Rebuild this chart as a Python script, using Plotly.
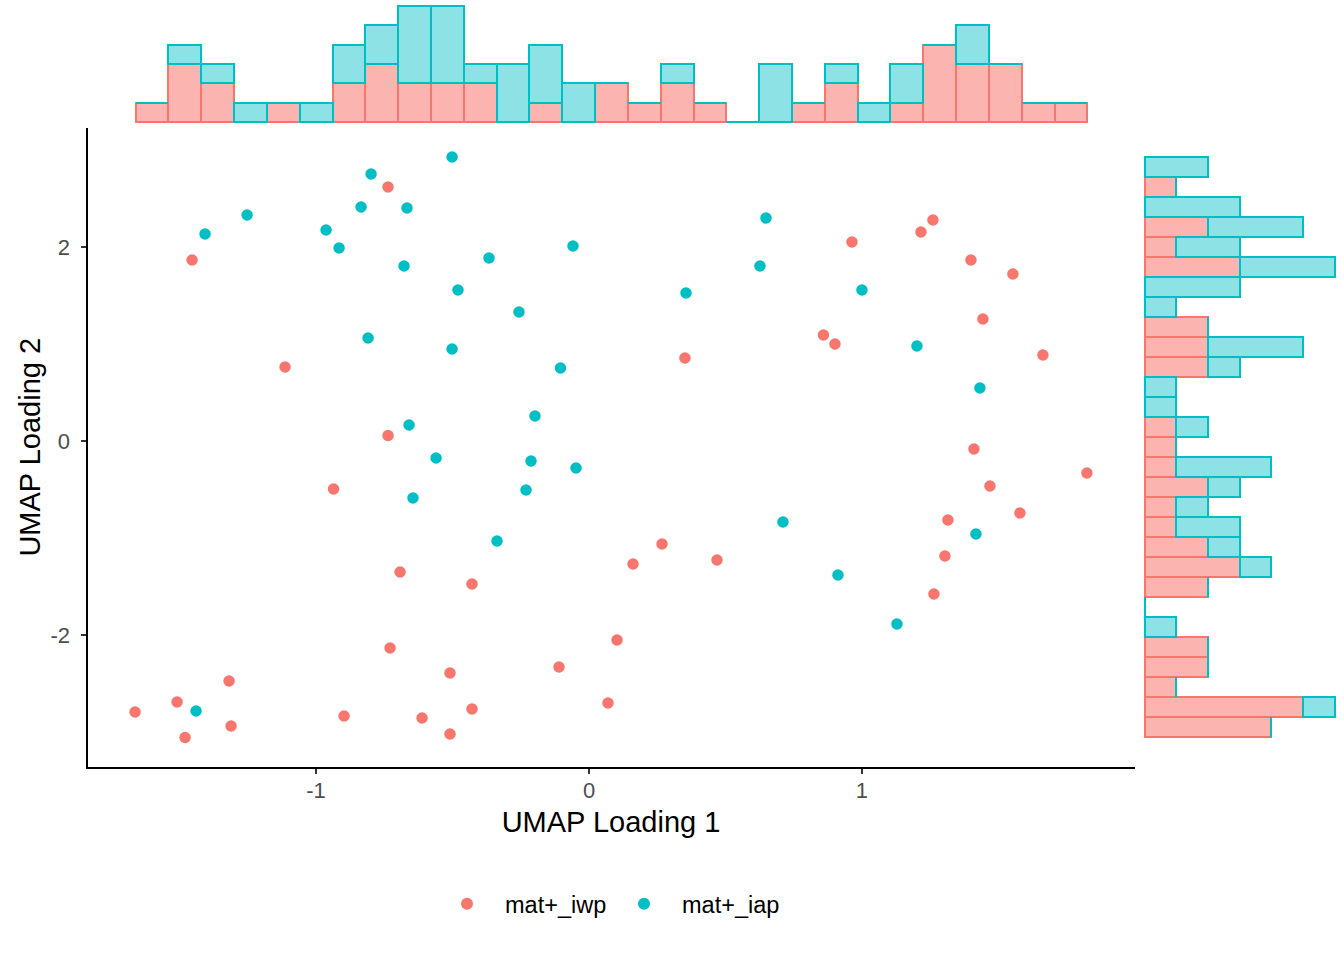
import numpy as np
import plotly.graph_objects as go

# ---------------- data ----------------
group_names = ["mat+_iwp", "mat+_iap"]
group_colors = ["#F8766D", "#00BFC4"]
group_fills = ["rgba(248,118,109,0.55)", "rgba(0,191,196,0.45)"]

iwp_x = [-0.7363, -1.4542, -1.1136, -0.7363, -0.9359, -0.6923, -0.4286, -0.7289,
         -0.5092, -1.3187, -1.5092, -1.6630, -1.3114, -1.4799, -0.8974, -0.6117,
         -0.4286, -0.5092, 0.2674, 0.1612, 0.4689, 0.1026, -0.1099, 0.0696,
         0.3516, 0.9634, 0.8590, 0.9011, 1.2601, 1.2161, 1.3993, 1.5531,
         1.4432, 1.6630, 1.4103, 1.8242, 1.4689, 1.5788, 1.3150, 1.3040, 1.2637]
iwp_y = [2.6186, 1.8660, 0.7629, 0.0567, -0.4948, -1.3505, -1.4742, -2.1340,
         -2.3918, -2.4742, -2.6907, -2.7938, -2.9381, -3.0567, -2.8351, -2.8557,
         -2.7629, -3.0206, -1.0619, -1.2680, -1.2268, -2.0515, -2.3299, -2.7010,
         0.8557, 2.0515, 1.0928, 1.0000, 2.2784, 2.1546, 1.8660, 1.7216,
         1.2577, 0.8866, -0.0825, -0.3299, -0.4639, -0.7423, -0.8144, -1.1856, -1.5773]

iap_x = [-0.5018, -0.7985, -0.8352, -0.6667, -1.2527, -1.4066, -0.9634, -0.9158,
         -0.3663, -0.6777, -0.4799, -0.8095, -0.5018, -0.6593, -0.5604, -0.0586,
         -0.2564, 0.6484, 0.6264, 0.3553, 1.0000, -0.1044, -0.1978, -0.2125,
         -0.0476, -0.6447, -0.2308, -0.3370, 0.7106, 0.9121, 1.2015, 1.4322,
         1.4176, 1.1282, -1.4396]
iap_y = [2.9278, 2.7526, 2.4124, 2.4021, 2.3299, 2.1340, 2.1753, 1.9897,
         1.8866, 1.8041, 1.5567, 1.0619, 0.9485, 0.1649, -0.1753, 2.0103,
         1.3299, 2.2990, 1.8041, 1.5258, 1.5567, 0.7526, 0.2577, -0.2062,
         -0.2784, -0.5876, -0.5052, -1.0309, -0.8351, -1.3814, 0.9794, 0.5464,
         -0.9588, -1.8866, -2.7835]

x_tick_vals = [-1, 0, 1]
x_tick_text = ["-1", "0", "1"]
y_tick_vals = [-2, 0, 2]
y_tick_text = ["-2", "0", "2"]
x_title = "UMAP Loading 1"
y_title = "UMAP Loading 2"
n_bins = 29

# ---------------- layout geometry (pixels) ----------------
W, H = 1344, 960
main_left, main_right = 87.5, 1134.5
main_top, main_bottom = 128.0, 766.5
top_hist_top = 0.0
right_hist_right = 1344.0

FONT = "Liberation Sans, Arial, Helvetica, sans-serif"

xs = [iwp_x, iap_x]
ys = [iwp_y, iap_y]
all_x = np.array(iwp_x + iap_x)
all_y = np.array(iwp_y + iap_y)

def expand(lo, hi, f=0.05):
    d = (hi - lo) * f
    return [lo - d, hi + d]

x_range = expand(all_x.min(), all_x.max())
y_range = expand(all_y.min(), all_y.max())

x_edges = np.linspace(all_x.min(), all_x.max(), n_bins + 1)
y_edges = np.linspace(all_y.min(), all_y.max(), n_bins + 1)
x_centers = (x_edges[:-1] + x_edges[1:]) / 2
y_centers = (y_edges[:-1] + y_edges[1:]) / 2
x_w = x_edges[1] - x_edges[0]
y_w = y_edges[1] - y_edges[0]

x_counts = [np.histogram(np.array(v), bins=x_edges)[0] for v in xs]
y_counts = [np.histogram(np.array(v), bins=y_edges)[0] for v in ys]
x_max = int((x_counts[0] + x_counts[1]).max())
y_max = int((y_counts[0] + y_counts[1]).max())

fig = go.Figure()

# marginal histograms (stacked: first group at the base)
for i in range(2):
    fig.add_trace(go.Bar(
        x=x_centers, y=x_counts[i], width=x_w,
        marker=dict(color=group_fills[i], line=dict(color=group_colors[i], width=2)),
        xaxis="x2", yaxis="y2", showlegend=False, hoverinfo="skip"))
for i in range(2):
    fig.add_trace(go.Bar(
        y=y_centers, x=y_counts[i], width=y_w, orientation="h",
        marker=dict(color=group_fills[i], line=dict(color=group_colors[i], width=2)),
        xaxis="x3", yaxis="y3", showlegend=False, hoverinfo="skip"))

# scatter
for i in range(2):
    fig.add_trace(go.Scatter(
        x=xs[i], y=ys[i], mode="markers", name=group_names[i],
        marker=dict(color=group_colors[i], size=11.5, line=dict(width=0)),
        xaxis="x", yaxis="y"))

def px_x(p):
    return p / W

def px_y(p):
    return (H - p) / H

fig.update_layout(
    width=W, height=H,
    margin=dict(l=0, r=0, t=0, b=0),
    paper_bgcolor="white", plot_bgcolor="white",
    barmode="stack", bargap=0,
    font=dict(family=FONT, color="black"),
    showlegend=True,
    legend=dict(
        orientation="h", traceorder="normal",
        x=(469 - 40) / W, xanchor="left",
        y=px_y(904), yanchor="middle",
        font=dict(size=23.5, color="black", family=FONT),
        itemwidth=66, entrywidth=96, itemsizing="constant",
        bgcolor="rgba(0,0,0,0)",
    ),
    xaxis=dict(
        domain=[px_x(main_left), px_x(main_right)], range=x_range,
        anchor="y", showgrid=False, zeroline=False,
        showline=True, linecolor="black", linewidth=2,
        ticks="outside", ticklen=5, tickwidth=2, tickcolor="#333333",
        tickvals=x_tick_vals, ticktext=x_tick_text,
        tickfont=dict(size=22, color="#4D4D4D", family=FONT),
        ticklabelstandoff=-2,
        title=dict(text=x_title, font=dict(size=29, color="black", family=FONT), standoff=10),
        automargin=False,
    ),
    yaxis=dict(
        domain=[px_y(main_bottom), px_y(main_top)], range=y_range,
        anchor="x", showgrid=False, zeroline=False,
        showline=True, linecolor="black", linewidth=2,
        ticks="outside", ticklen=5, tickwidth=2, tickcolor="#333333",
        tickvals=y_tick_vals, ticktext=y_tick_text,
        tickfont=dict(size=22, color="#4D4D4D", family=FONT),
        ticklabelstandoff=6,
        title=dict(text=y_title, font=dict(size=29, color="black", family=FONT), standoff=1),
        automargin=False,
    ),
    xaxis2=dict(
        domain=[px_x(main_left), px_x(main_right)], matches="x",
        anchor="y2", visible=False, showgrid=False, zeroline=False,
    ),
    yaxis2=dict(
        domain=[px_y(main_top), px_y(top_hist_top)],
        range=[-0.05 * x_max, 1.05 * x_max],
        anchor="x2", visible=False, showgrid=False, zeroline=False,
    ),
    xaxis3=dict(
        domain=[px_x(main_right), px_x(right_hist_right)],
        range=[-0.05 * y_max, 1.05 * y_max],
        anchor="y3", visible=False, showgrid=False, zeroline=False,
    ),
    yaxis3=dict(
        domain=[px_y(main_bottom), px_y(main_top)], matches="y",
        anchor="x3", visible=False, showgrid=False, zeroline=False,
    ),
)

fig.write_html("out.html")
